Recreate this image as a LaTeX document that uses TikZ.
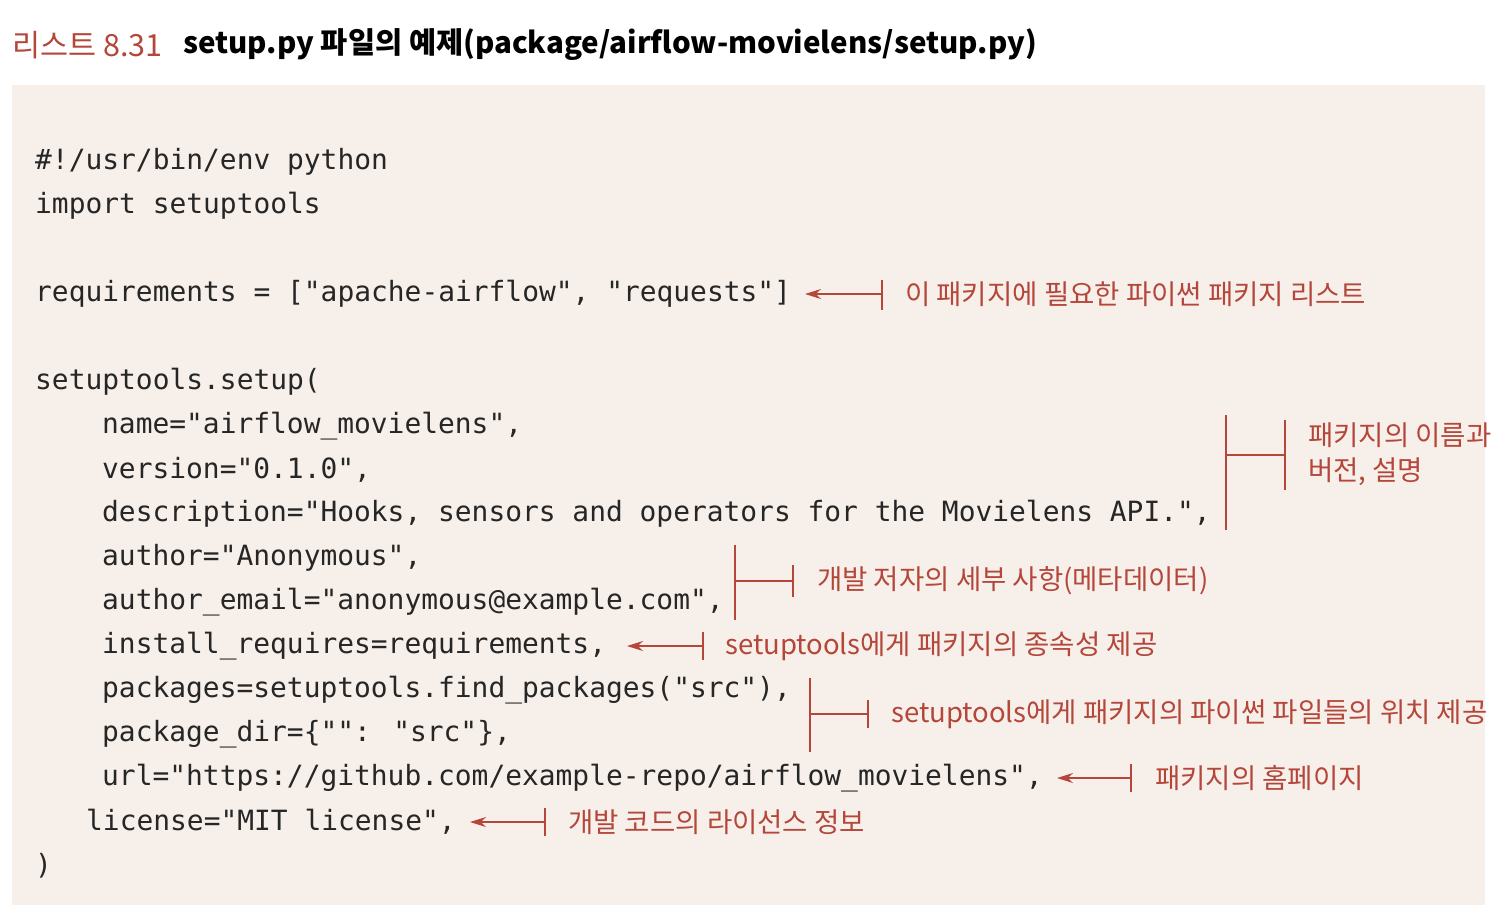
\documentclass[tikz,border=0pt]{standalone}
\usepackage{fontspec}
\setmainfont{Noto Sans CJK KR}
\newfontfamily\codefont{DejaVu Sans Mono}
\newfontfamily\krfont{Noto Sans CJK KR}
\usetikzlibrary{arrows.meta}
\definecolor{anno}{HTML}{B4463A}
\definecolor{bg}{HTML}{F7F0EA}
\begin{document}
\begin{tikzpicture}[x=1pt,y=-1pt,
  code/.style={anchor=west,inner sep=0,font=\codefont\fontsize{27.9}{28}\selectfont,text=black!85},
  note/.style={anchor=west,inner sep=0,font=\krfont\fontsize{27.5}{28}\selectfont,text=anno},
  ln/.style={draw=anno,line width=1.2pt},
  arr/.style={ln,-{Stealth[length=16pt,width=10pt]}}]
\useasboundingbox (0,0) rectangle (1498,914);
\fill[bg] (12,85) rectangle (1485,905);
\node[anchor=west,inner sep=0,font=\krfont\fontsize{30.5}{31}\selectfont,text=anno] (lab) at (12,45) {리스트 8.31};
\node[anchor=west,inner sep=0,font=\krfont\bfseries\fontsize{29.5}{30}\selectfont] (ttl) at (183,45) {setup.py 파일의 예제(package/airflow-movielens/setup.py)};
\node[code] (c1) at (35,162) {\#!/usr/bin/env python};
\node[code] (c2) at (35,206) {import setuptools};
\node[code] (c3) at (35,294) {requirements = ["apache-airflow", "requests"]};
\node[code] (c4) at (35,382) {setuptools.setup(};
\node[code] (c5) at (102,426) {name="airflow\_movielens",};
\node[code] (c6) at (102,470) {version="0.1.0",};
\node[code] (c7) at (102,514) {description="Hooks, sensors and operators for the Movielens API.",};
\node[code] (c8) at (102,558) {author="Anonymous",};
\node[code] (c9) at (102,602) {author\_email="anonymous@example.com",};
\node[code] (c10) at (102,646) {install\_requires=requirements,};
\node[code] (c11) at (102,690) {packages=setuptools.find\_packages("src"),};
\node[code] (c12) at (102,734) {package\_dir=\{"": "src"\},};
\node[code] (c13) at (102,778) {url="https://github.com/example-repo/airflow\_movielens",};
\node[code] (c14) at (86,822) {license="MIT license",};
\node[code] (c15) at (35,866) {)};
% 1
\coordinate (t1) at (882,294); \coordinate (h1) at (805,294);
\draw[ln] (882,280) -- (882,310); \draw[arr] (t1) -- (h1);
\node[note] (n1) at (905,294) {이 패키지에 필요한 파이썬 패키지 리스트};
% 2
\draw[ln] (1226,415) -- (1226,530); \draw[ln] (1226,455) -- (1285,455); \draw[ln] (1285,420) -- (1285,490);
\node[note] (n2a) at (1308,435) {패키지의 이름과};
\node[note] (n2b) at (1308,472) {버전, 설명};
% 3
\draw[ln] (735,545) -- (735,620); \draw[ln] (735,581) -- (793,581); \draw[ln] (793,565) -- (793,597);
\node[note] (n3) at (817,581) {개발 저자의 세부 사항(메타데이터)};
% 4
\coordinate (t4) at (703,646); \coordinate (h4) at (627,646);
\draw[ln] (703,632) -- (703,660); \draw[arr] (t4) -- (h4);
\node[note] (n4) at (725,646) {setuptools에게 패키지의 종속성 제공};
% 5
\draw[ln] (810,678) -- (810,752); \draw[ln] (810,714) -- (868,714); \draw[ln] (868,700) -- (868,728);
\node[note] (n5) at (891,714) {setuptools에게 패키지의 파이썬 파일들의 위치 제공};
% 6
\coordinate (t6) at (1131,778); \coordinate (h6) at (1057,778);
\draw[ln] (1131,764) -- (1131,792); \draw[arr] (t6) -- (h6);
\node[note] (n6) at (1155,778) {패키지의 홈페이지};
% 7
\coordinate (t7) at (545,822); \coordinate (h7) at (470,822);
\draw[ln] (545,808) -- (545,836); \draw[arr] (t7) -- (h7);
\node[note] (n7) at (568,822) {개발 코드의 라이선스 정보};
\end{tikzpicture}
\end{document}
